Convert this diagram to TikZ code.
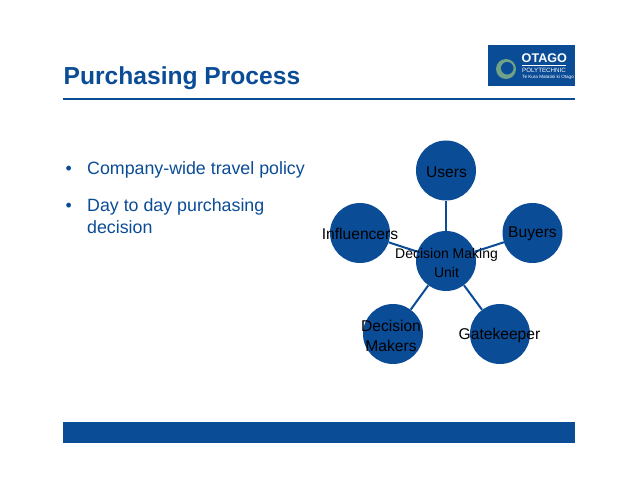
\documentclass[tikz,border=0pt]{standalone}
\usepackage{fontspec}
\setmainfont{Liberation Sans}
\definecolor{otagoblue}{HTML}{0B4C96}
\definecolor{otagogreen}{HTML}{6FA287}
\tikzset{
	petal/.style = {circle, fill = otagoblue, minimum size = 60pt, inner sep = 0pt},
	spoke/.style = {draw = otagoblue, line width = 2pt},
	petaltext/.style = {align = center, font = \fontsize{15.6pt}{20pt}\selectfont},
	hubtext/.style = {align = center, font = \fontsize{14pt}{18.5pt}\selectfont},
	bodytext/.style = {anchor = base west, inner sep = 0pt, text = otagoblue, font = \fontsize{17.8pt}{21pt}\selectfont},
	logotext/.style = {anchor = base west, inner sep = 0pt, text = white}
}
\begin{document}
\begin{tikzpicture}[x = 1pt, y = -1pt]
	\useasboundingbox (0,0) rectangle (638,478);
	\fill[white] (0,0) rectangle (638,478);
	% header
	\node[anchor = base west, inner sep = 0pt, text = otagoblue, font = \fontsize{24.6pt}{28pt}\selectfont\bfseries] (title) at (63.5,85) {Purchasing Process};
	\fill[otagoblue] (63,97.8) rectangle (574.5,100.4);
	\fill[otagoblue] (63,422) rectangle (574.5,443);
	% logo
	\fill[otagoblue] (487.5,45.5) rectangle (574.5,86);
	\fill[otagogreen, even odd rule] (506,69) circle (10) (507.2,68.2) circle (6.4);
	\node[logotext, font = \fontsize{12.6pt}{14pt}\selectfont\bfseries] (otago) at (521.5,63) {OTAGO};
	\fill[white] (522,65) rectangle (566,65.5);
	\node[logotext, font = \fontsize{6.2pt}{7pt}\selectfont] (poly) at (522,72.5) {POLYTECHNIC};
	\node[logotext, font = \fontsize{4.6pt}{5pt}\selectfont] (kura) at (522,79) {Te Kura Matatini ki Otago};
	% bullets
	\node[bodytext] (b1) at (65.5,175) {•};
	\node[bodytext] (t1) at (87,175) {Company-wide travel policy};
	\node[bodytext] (b2) at (65.5,212) {•};
	\node[bodytext] (t2) at (87,212) {Day to day purchasing};
	\node[bodytext] (t3) at (87,233.5) {decision};
	% circles
	\foreach \name/\x/\y in {hub/446/261,users/446/170.5,buyers/532.5/233,keeper/500/334,makers/393/334,influencers/360/233}{
		\node[petal] (\name) at (\x,\y) {};
	}
	\foreach \name in {users,buyers,keeper,makers,influencers}{
		\draw[spoke] (hub) -- (\name);
	}
	% labels
	\node[petaltext] (lusers) at (446.5,172) {Users};
	\node[petaltext] (lbuyers) at (532.5,234) {Buyers};
	\node[petaltext] (lkeeper) at (499.5,335) {Gatekeeper};
	\node[petaltext] (lmakers) at (391,336) {Decision\\Makers};
	\node[petaltext] (linfluencers) at (360,234) {Influencers};
	\node[hubtext] (lhub) at (446.5,263) {Decision Making\\Unit};
\end{tikzpicture}
\end{document}
